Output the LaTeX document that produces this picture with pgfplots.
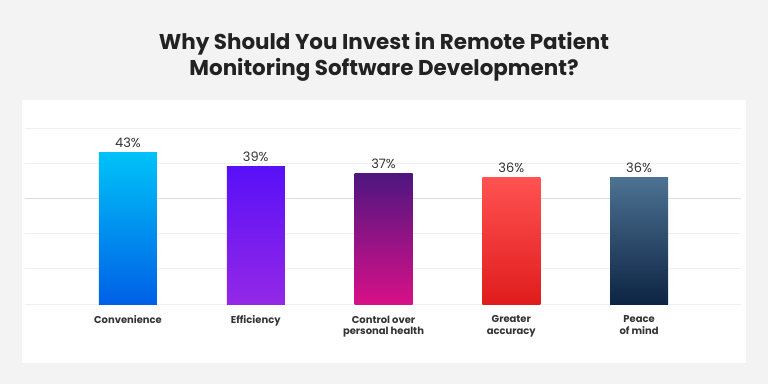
\documentclass[border=0pt]{standalone}
\usepackage{fontspec}
\setmainfont{Poppins}
\usepackage{pgfplots}
\pgfplotsset{compat=1.18}
\definecolor{bgc}{HTML}{F3F3F3}
\definecolor{titlec}{HTML}{222222}
\definecolor{labc}{HTML}{333333}
\definecolor{gridc}{HTML}{F0F0F0}
\definecolor{gridd}{HTML}{DEDEDE}
\definecolor{c1t}{HTML}{00C2F8}
\definecolor{c1b}{HTML}{0060E6}
\definecolor{c2t}{HTML}{5810F8}
\definecolor{c2b}{HTML}{9428E6}
\definecolor{c3t}{HTML}{4E1680}
\definecolor{c3b}{HTML}{D81088}
\definecolor{c4t}{HTML}{FF5252}
\definecolor{c4b}{HTML}{E01C1C}
\definecolor{c5t}{HTML}{4C7292}
\definecolor{c5b}{HTML}{0E2444}
\begin{document}
\begin{tikzpicture}[x=1bp,y=1bp]
\fill[bgc] (0,0) rectangle (768,384);
\fill[white] (22,21) rectangle (746,284);
\node[align=center, font=\fontsize{21.5}{26}\selectfont\bfseries, text=titlec] at (384,327) {Why Should You Invest in Remote Patient\\Monitoring Software Development?};
\begin{axis}[at={(25bp,80bp)}, anchor=south west, scale only axis,
  width=716bp, height=176bp,
  xmin=-0.806, xmax=4.798, ymin=0, ymax=50,
  axis line style={draw=none}, tick style={draw=none},
  ytick={0,10,20,40,50}, yticklabels={},
  ymajorgrids, grid style={color=gridc, line width=0.8bp},
  extra y ticks={30}, extra y tick labels={},
  extra y tick style={grid style={color=gridd, line width=0.8bp}},
  xtick={0,1,2,3,4},
  xticklabels={Convenience, Efficiency, {Control over\\personal health}, {Greater\\accuracy}, {Peace\\of mind}},
  xticklabel style={align=center, font=\fontsize{10}{11.5}\selectfont\bfseries, text=labc, anchor=north, yshift=-4bp},
  /pgf/number format/assume math mode=true,
  ybar, bar width=58bp, bar shift=0pt,
  nodes near coords={\pgfmathprintnumber{\pgfplotspointmeta}\%},
  nodes near coords style={font=\fontsize{13}{15}\selectfont, text=labc, yshift=1.5bp},
  clip=false]
\addplot[draw=none, bar shift=0pt, top color=c1t, bottom color=c1b] coordinates {(0,43)};
\addplot[draw=none, bar shift=0pt, top color=c2t, bottom color=c2b] coordinates {(1,39)};
\addplot[draw=none, bar shift=0pt, top color=c3t, bottom color=c3b] coordinates {(2,37)};
\addplot[draw=none, bar shift=0pt, top color=c4t, bottom color=c4b] coordinates {(3,36)};
\addplot[draw=none, bar shift=0pt, top color=c5t, bottom color=c5b] coordinates {(4,36)};
\end{axis}
\end{tikzpicture}
\end{document}
